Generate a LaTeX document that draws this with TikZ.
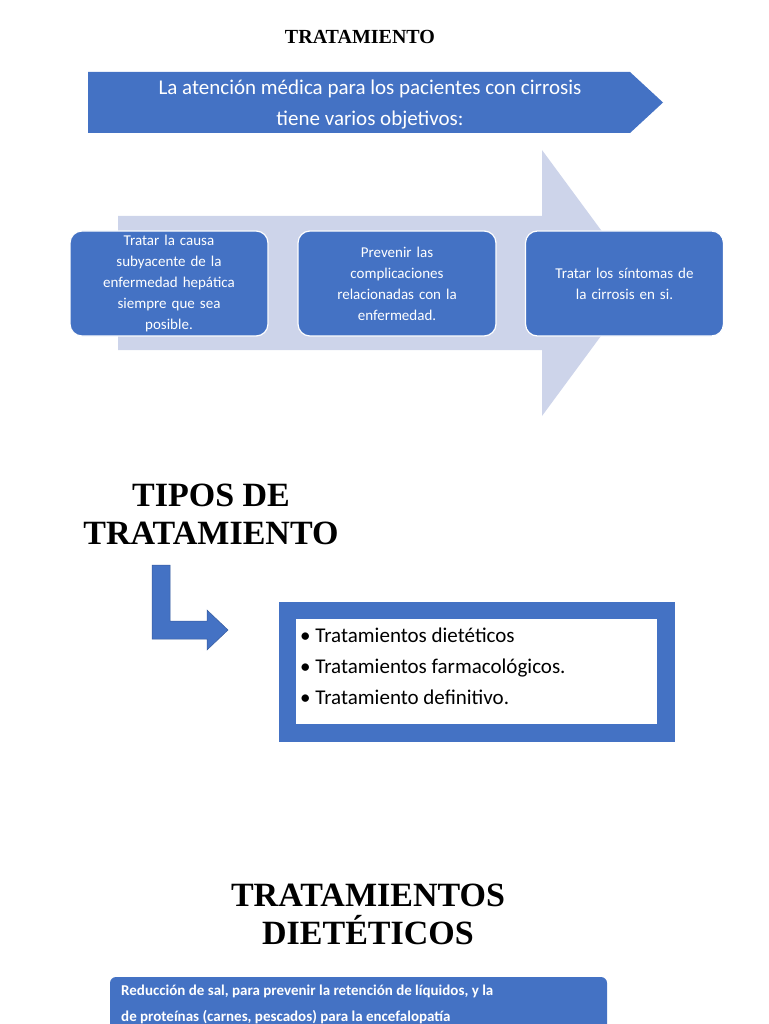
\documentclass[tikz,border=0pt]{standalone}
\usepackage{fontspec}
\setmainfont{Carlito}
\newfontfamily\serifb{Liberation Serif}
\definecolor{blu}{HTML}{4472C4}
\definecolor{lite}{HTML}{CDD4EA}
\begin{document}
\begin{tikzpicture}[x=1pt,y=-1pt,
  rbox/.style={fill=blu,draw=white,line width=1.2pt,rounded corners=12pt,text=white,align=center,font=\fontsize{15}{21}\selectfont,minimum width=198pt,minimum height=105pt,inner sep=2pt,text width=180pt},
  ttl/.style={font=\serifb\bfseries\fontsize{34}{38}\selectfont,align=center}]
\useasboundingbox (0,0) rectangle (768,1024);
\node[font=\serifb\bfseries\fontsize{20}{24}\selectfont] (t1) at (360,37) {TRATAMIENTO};
\fill[blu] (88,72) -- (630,72) -- (663,102.5) -- (630,133) -- (88,133) -- cycle;
\node[text=white,align=center,font=\fontsize{21}{31}\selectfont] (obj) at (370,105) {La atención médica para los pacientes con cirrosis\\tiene varios objetivos:};
\fill[lite] (118,216) -- (542,216) -- (542,150) -- (640,283) -- (542,416) -- (542,350) -- (118,350) -- cycle;
\node[rbox] (b1) at (169,283.5) {Tratar la causa\\subyacente de la\\enfermedad hepática\\siempre que sea\\posible.};
\node[rbox] (b2) at (397,283.5) {Prevenir las\\complicaciones\\relacionadas con la\\enfermedad.};
\node[rbox] (b3) at (624.5,283.5) {Tratar los síntomas de\\la cirrosis en si.};
\node[ttl] (t2) at (211,514) {TIPOS DE\\TRATAMIENTO};
\fill[blu,draw=blu!80!black,line width=0.5pt] (152,565) -- (170,565) -- (170,621) -- (207,621) -- (207,610) -- (228,630) -- (207,650) -- (207,639) -- (152,639) -- cycle;
\fill[blu] (279,602) rectangle (675,742);
\fill[white] (296,619) rectangle (657,724);
\node[anchor=north west,align=left,font=\fontsize{21}{31}\selectfont,inner sep=0pt] (list) at (300,628) {\textbullet\ Tratamientos dietéticos\\\textbullet\ Tratamientos farmacológicos.\\\textbullet\ Tratamiento definitivo.};
\node[ttl] (t3) at (368,914) {TRATAMIENTOS\\DIETÉTICOS};
\fill[blu,rounded corners=6pt] (110,977) rectangle (607,1040);
\node[anchor=north west,align=left,text=white,font=\bfseries\fontsize{15}{26}\selectfont,inner sep=0pt] (red) at (121,985) {Reducción de sal, para prevenir la retención de líquidos, y la\\de proteínas (carnes, pescados) para la encefalopatía};
\end{tikzpicture}
\end{document}
